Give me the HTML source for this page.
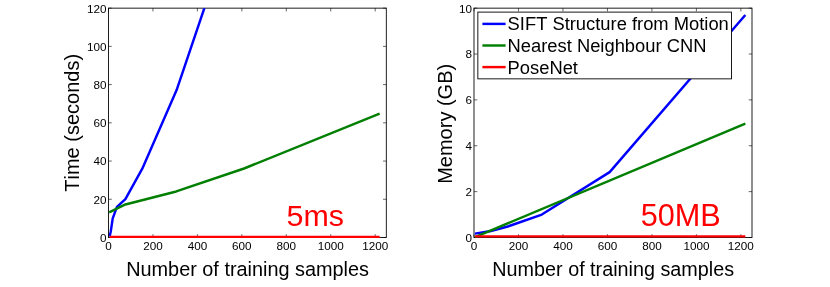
<!DOCTYPE html><html><head><meta charset="utf-8"><title>plot</title><style>html,body{margin:0;padding:0;background:#fff}svg{display:block}</style></head><body><svg width="830" height="287" viewBox="0 0 830 287" font-family="Liberation Sans, Arial, Helvetica, sans-serif" style="font-kerning:none">
<rect width="830" height="287" fill="#fff"/>
<clipPath id="clip1"><rect x="108.5" y="8.15" width="277.8" height="229.85"/></clipPath>
<rect x="108.5" y="8.15" width="277.8" height="229.35" fill="none" stroke="#000" stroke-width="0.88"/>
<path d="M108.50 237.5v-3.3M108.50 8.15v3.3M152.95 237.5v-3.3M152.95 8.15v3.3M197.40 237.5v-3.3M197.40 8.15v3.3M241.84 237.5v-3.3M241.84 8.15v3.3M286.29 237.5v-3.3M286.29 8.15v3.3M330.74 237.5v-3.3M330.74 8.15v3.3M375.19 237.5v-3.3M375.19 8.15v3.3M108.5 237.50h3.3M386.3 237.50h-3.3M108.5 199.28h3.3M386.3 199.28h-3.3M108.5 161.05h3.3M386.3 161.05h-3.3M108.5 122.83h3.3M386.3 122.83h-3.3M108.5 84.60h3.3M386.3 84.60h-3.3M108.5 46.38h3.3M386.3 46.38h-3.3M108.5 8.15h3.3M386.3 8.15h-3.3" stroke="#000" stroke-width="0.6" fill="none"/>
<g clip-path="url(#clip1)" fill="none" stroke-width="2.45" stroke-linejoin="round" stroke-linecap="butt">
<polyline points="109.61,236.54 110.72,231.77 112.72,218.39 116.95,206.92 125.39,199.08 142.28,168.69 176.51,90.33 244.51,-110.35" stroke="#0000ff" stroke-width="2.45"/>
<polyline points="109.17,212.37 125.39,204.44 176.28,191.44 244.07,168.50 379.63,113.65" stroke="#007f00" stroke-width="2.45"/>
<polyline points="109.61,236.93 379.63,236.93" stroke="#ff0000" stroke-width="2.45"/>
</g>
<g font-size="11.7" fill="#000">
<text x="108.50" y="250.2" text-anchor="middle">0</text>
<text x="152.95" y="250.2" text-anchor="middle">200</text>
<text x="197.40" y="250.2" text-anchor="middle">400</text>
<text x="241.84" y="250.2" text-anchor="middle">600</text>
<text x="286.29" y="250.2" text-anchor="middle">800</text>
<text x="330.74" y="250.2" text-anchor="middle">1000</text>
<text x="375.19" y="250.2" text-anchor="middle">1200</text>
<text x="106.4" y="241.90" text-anchor="end">0</text>
<text x="106.4" y="203.68" text-anchor="end">20</text>
<text x="106.4" y="165.45" text-anchor="end">40</text>
<text x="106.4" y="127.23" text-anchor="end">60</text>
<text x="106.4" y="89.00" text-anchor="end">80</text>
<text x="106.4" y="50.77" text-anchor="end">100</text>
<text x="106.4" y="12.55" text-anchor="end">120</text>
</g>
<text x="247.60" y="276.4" font-size="19.88" text-anchor="middle">Number of training samples</text>
<text transform="translate(79.0 122.825) rotate(-90)" font-size="20" text-anchor="middle">Time (seconds)</text>
<text x="286.6" y="225.7" font-size="30.4" fill="#ff0000">5ms</text>
<clipPath id="clip2"><rect x="474" y="8.15" width="278" height="229.85"/></clipPath>
<rect x="474" y="8.15" width="278" height="229.35" fill="none" stroke="#000" stroke-width="0.88"/>
<path d="M474.00 237.5v-3.3M474.00 8.15v3.3M518.48 237.5v-3.3M518.48 8.15v3.3M562.96 237.5v-3.3M562.96 8.15v3.3M607.44 237.5v-3.3M607.44 8.15v3.3M651.92 237.5v-3.3M651.92 8.15v3.3M696.40 237.5v-3.3M696.40 8.15v3.3M740.88 237.5v-3.3M740.88 8.15v3.3M474 237.50h3.3M752 237.50h-3.3M474 191.63h3.3M752 191.63h-3.3M474 145.76h3.3M752 145.76h-3.3M474 99.89h3.3M752 99.89h-3.3M474 54.02h3.3M752 54.02h-3.3M474 8.15h3.3M752 8.15h-3.3" stroke="#000" stroke-width="0.6" fill="none"/>
<g clip-path="url(#clip2)" fill="none" stroke-width="2.45" stroke-linejoin="round" stroke-linecap="butt">
<polyline points="474.89,233.60 490.90,231.08 507.80,226.49 541.83,214.56 609.66,172.14 745.33,15.03" stroke="#0000ff" stroke-width="2.45"/>
<polyline points="475.11,237.04 745.33,123.51" stroke="#007f00" stroke-width="2.45"/>
<polyline points="475.11,236.35 745.33,236.35" stroke="#ff0000" stroke-width="2.45"/>
</g>
<g font-size="11.7" fill="#000">
<text x="474.00" y="250.2" text-anchor="middle">0</text>
<text x="518.48" y="250.2" text-anchor="middle">200</text>
<text x="562.96" y="250.2" text-anchor="middle">400</text>
<text x="607.44" y="250.2" text-anchor="middle">600</text>
<text x="651.92" y="250.2" text-anchor="middle">800</text>
<text x="696.40" y="250.2" text-anchor="middle">1000</text>
<text x="740.88" y="250.2" text-anchor="middle">1200</text>
<text x="471.9" y="241.90" text-anchor="end">0</text>
<text x="471.9" y="196.03" text-anchor="end">2</text>
<text x="471.9" y="150.16" text-anchor="end">4</text>
<text x="471.9" y="104.29" text-anchor="end">6</text>
<text x="471.9" y="58.42" text-anchor="end">8</text>
<text x="471.9" y="12.55" text-anchor="end">10</text>
</g>
<text x="613.20" y="276.4" font-size="19.78" text-anchor="middle">Number of training samples</text>
<text transform="translate(452 123.825) rotate(-90)" font-size="20" text-anchor="middle">Memory (GB)</text>
<text x="640.7" y="225.7" font-size="30.67" fill="#ff0000">50MB</text>
<rect x="477.85" y="12.1" width="253.6" height="66.75" fill="#fff" stroke="#000" stroke-width="0.9"/>
<path d="M482.4 23.9H505.6" stroke="#0000ff" stroke-width="2.45"/>
<text x="507.6" y="30.4" font-size="18.35">SIFT Structure from Motion</text>
<path d="M482.4 45.5H505.6" stroke="#007f00" stroke-width="2.45"/>
<text x="507.6" y="51.95" font-size="18.35">Nearest Neighbour CNN</text>
<path d="M482.4 67.1H505.6" stroke="#ff0000" stroke-width="2.45"/>
<text x="507.6" y="73.8" font-size="18.35">PoseNet</text>
</svg></body></html>
